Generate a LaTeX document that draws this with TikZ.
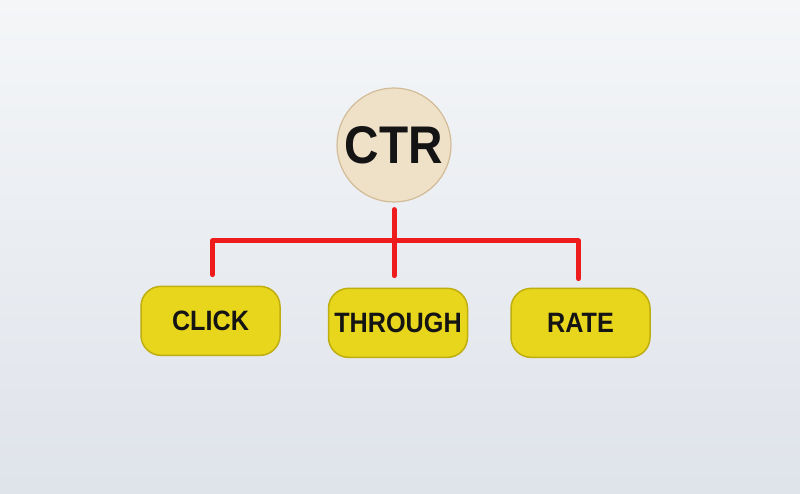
\documentclass[tikz,border=0pt]{standalone}
\usepackage{fontspec}
\setmainfont{Liberation Sans}
\newfontfamily\labelfont[FakeStretch=0.9]{Liberation Sans}
\usetikzlibrary{positioning,shapes,arrows.meta,calc,backgrounds}

\definecolor{paper_top}{HTML}{F4F6F8}
\definecolor{paper_bot}{HTML}{DFE3EA}
\definecolor{wood}{HTML}{EFE1C7}
\definecolor{wood_edge}{HTML}{D2BC98}
\definecolor{tile}{HTML}{E8D61C}
\definecolor{tile_edge}{HTML}{BFAE10}
\definecolor{marker_red}{HTML}{EE1C1C}
\definecolor{ink}{HTML}{141414}

\begin{document}
\begin{tikzpicture}[
    x=1pt, y=-1pt,
    % wooden disc and yellow tiles
    disc/.style={circle, draw=wood_edge, fill=wood, line width=1.2pt,
                 minimum size=114pt, inner sep=0pt, text=ink,
                 font=\labelfont\bfseries\fontsize{53}{60}\selectfont},
    tile_box/.style={rectangle, draw=tile_edge, fill=tile, rounded corners=20pt,
                     minimum width=139pt, minimum height=69pt, line width=1.5pt,
                     inner sep=0pt, text=ink,
                     font=\labelfont\bfseries\fontsize{28}{32}\selectfont},
    marker/.style={draw=marker_red, line width=5pt, line cap=round, line join=round},
    node distance=85pt
]
\useasboundingbox (0,0) rectangle (800,494);
\shade[top color=paper_top, bottom color=paper_bot] (0,0) rectangle (800,494);

% Top: the wooden disc
\node[disc] (ctr) at (394,145) {CTR};

% Row of tiles
\node[tile_box, below=85pt of ctr, xshift=4pt] (through) {THROUGH};
\node[tile_box, left=47pt of through, yshift=2pt] (click) {CLICK};
\node[tile_box, right=42pt of through] (rate) {RATE};

% Red marker lines
\coordinate (branch) at (395,241);
\draw[marker] ([yshift=-7pt]ctr.south) -- ($(ctr.south |- through.north)+(0,-12)$);
\draw[marker] ([xshift=2pt,yshift=11pt]click.north) |- (branch)
              -| ([xshift=-2pt,yshift=9pt]rate.north);

\end{tikzpicture}
\end{document}
